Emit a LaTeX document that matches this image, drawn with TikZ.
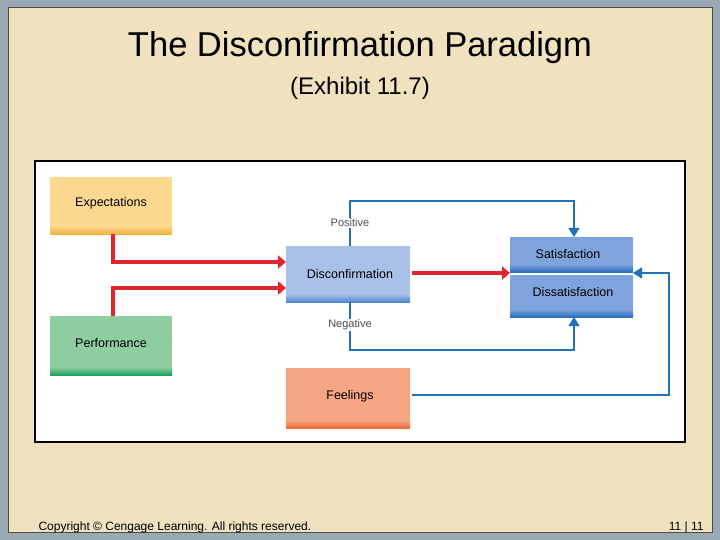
\documentclass[tikz,border=0pt]{standalone}
\usepackage{fontspec}
\setmainfont{Liberation Sans}
\usetikzlibrary{arrows.meta}
\definecolor{frame}{HTML}{9AAAB4}
\definecolor{beige}{HTML}{F0E2BF}
\definecolor{cexp}{HTML}{FDD990}
\definecolor{cexpd}{HTML}{F3B33C}
\definecolor{cper}{HTML}{8ECD9F}
\definecolor{cperd}{HTML}{1EA35A}
\definecolor{cdis}{HTML}{A9C1E9}
\definecolor{cdisd}{HTML}{4F86CF}
\definecolor{csat}{HTML}{7FA4DD}
\definecolor{csatd}{HTML}{2A6FC4}
\definecolor{cfee}{HTML}{F7A684}
\definecolor{cfeed}{HTML}{EE6B3A}
\definecolor{cred}{HTML}{E0252F}
\definecolor{cblue}{HTML}{1F72B8}
\begin{document}
\begin{tikzpicture}[x=1pt,y=-1pt,
  bx/.style={minimum width=122pt,font=\fontsize{12.5}{14}\selectfont,inner sep=0pt},
  redar/.style={draw=cred,line width=3.5pt,-{Triangle[length=8pt,width=13pt]}},
  bluar/.style={draw=cblue,line width=1.5pt,-{Triangle[length=9pt,width=11pt]}},
  lbl/.style={font=\fontsize{11}{13}\selectfont,text=black!70,fill=white,inner sep=1pt}]
\fill[frame] (0,0) rectangle (720,540);
\fill[beige,draw=black!70,line width=1pt] (8,8) rectangle (712,532);
\node[font=\fontsize{34.5}{38}\selectfont] (title) at (360,48) {The Disconfirmation Paradigm};
\node[font=\fontsize{24}{28}\selectfont] (sub) at (360,88) {(Exhibit 11.7)};
\node[anchor=west,font=\fontsize{12}{14}\selectfont] (copy) at (35,527) {Copyright © Cengage Learning. All rights reserved.};
\node[anchor=east,font=\fontsize{12}{14}\selectfont] (pg) at (707,527) {11 | 11};
\fill[white,draw=black,line width=2pt] (35,161) rectangle (685,442);
% boxes
\newcommand{\mybox}[6]{%
  \fill[#5] (#1,#2) rectangle (#3,#4);
  \shade[top color=#5,bottom color=#6] (#1,#4-8) rectangle (#3,#4);
}
\mybox{50}{177}{172}{234}{cexp}{cexpd}
\mybox{50}{316}{172}{375}{cper}{cperd}
\mybox{286}{246}{410}{302}{cdis}{cdisd}
\mybox{510}{237}{633}{272}{csat}{csatd}
\mybox{510}{275}{633}{317}{csat}{csatd}
\mybox{286}{368}{410}{428}{cfee}{cfeed}
\node[bx,minimum height=57pt] (exp) at (111,203) {Expectations};
\node[bx,minimum height=59pt] (per) at (111,343) {Performance};
\node[bx,minimum width=124pt,minimum height=56pt] (dis) at (350,274) {Disconfirmation};
\node[bx,minimum width=123pt,minimum height=35pt] (sat) at (568,254.5) {Satisfaction};
\node[bx,minimum width=123pt,minimum height=42pt] (dsat) at (573,292) {Dissatisfaction};
\node[bx,minimum width=124pt,minimum height=60pt] (fee) at (350,396) {Feelings};
\draw[redar] (113,234) -- (113,262) -- (286,262);
\draw[redar] (113,316) -- (113,288) -- (286,288);
\draw[redar] (dis.east |- 0,273) -- (510,273);
\draw[bluar] (350,246) -- (350,201) -- (574,201) -- (574,237);
\draw[bluar] (350,302) -- (350,350) -- (574,350) -- (574,317);
\draw[bluar] (fee.east |- 0,395) -- (669,395) -- (669,273) -- (633,273);
\node[lbl] (pos) at (350,223) {Positive};
\node[lbl] (neg) at (350,325) {Negative};
\end{tikzpicture}
\end{document}
